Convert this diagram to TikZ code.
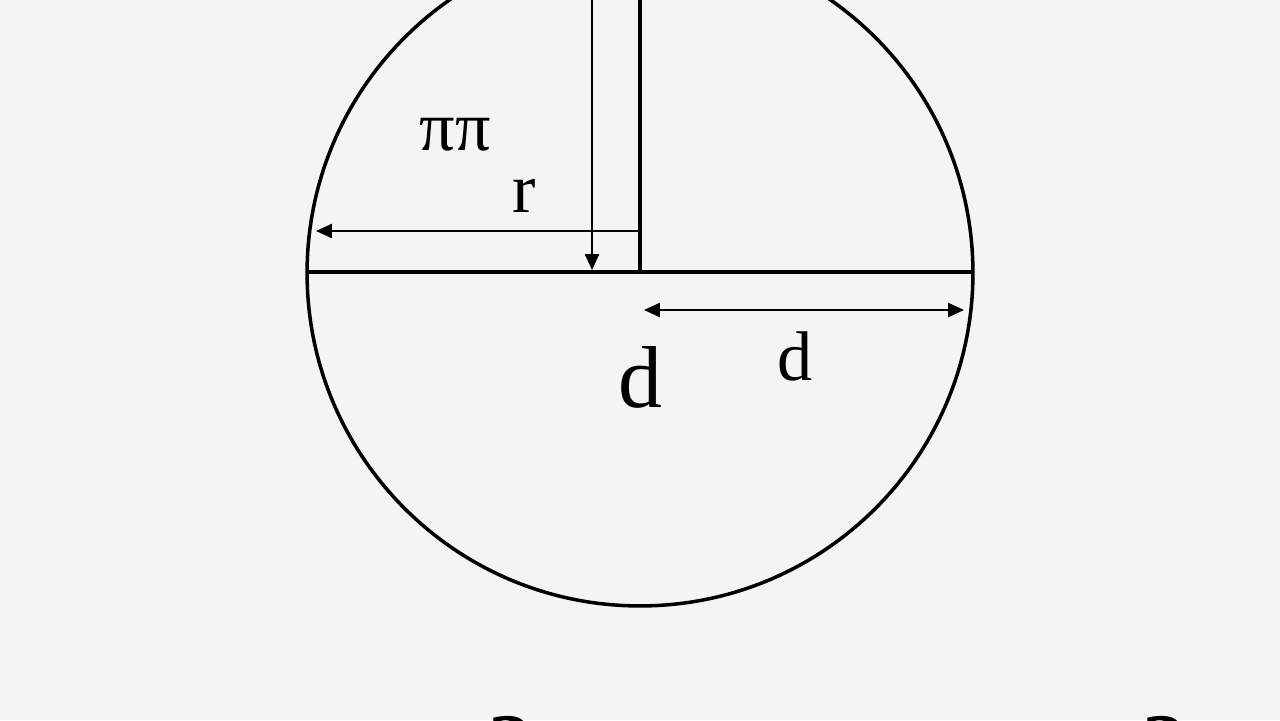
\documentclass[tikz,border=0pt]{standalone}
\usepackage{fontspec}
\setmainfont{Liberation Serif}
\usetikzlibrary{arrows.meta}
\definecolor{bg}{HTML}{F4F4F4}
\tikzset{
  thickline/.style={line width=2pt, black},
  thinline/.style={line width=1pt, black},
  tip/.style={-{Triangle[length=9pt,width=8pt]}},
  lbl/.style={inner sep=0pt, font=\fontsize{40}{40}\selectfont},
}
\begin{document}
\begin{tikzpicture}[x=0.02cm,y=-0.02cm]
\fill[bg] (0,0) rectangle (1280,720);
\useasboundingbox (0,0) rectangle (1280,720);
\clip (0,0) rectangle (1280,720);
% main circle
\coordinate (C) at (640,273);
\draw[thickline] (C) circle [radius=6.66cm];
% diameter and vertical radius
\coordinate (L) at (307,272);
\coordinate (R) at (973,272);
\coordinate (Top) at (640,-5);
\draw[thickline] (L) -- (R);
\draw[thickline] (Top) -- (640,272);
% thin vertical arrow
\coordinate (va1) at (592,-5);
\coordinate (va2) at (592,270);
\draw[thinline,tip] (va1) -- (va2);
% left arrow
\coordinate (la1) at (639,231);
\coordinate (la2) at (316,231);
\draw[thinline,tip] (la1) -- (la2);
% double arrow
\coordinate (da1) at (644,310);
\coordinate (da2) at (964,310);
\draw[thinline,{Triangle[length=9pt,width=8pt]}-{Triangle[length=9pt,width=8pt]}] (da1) -- (da2);
% labels
\node[lbl, anchor=base] (pp) at (455,150) {ππ};
\node[lbl, anchor=base] (r) at (524,212) {r};
\node[inner sep=0pt, anchor=base, font=\fontsize{50}{50}\selectfont] (d1) at (640,407) {d};
\node[inner sep=0pt, anchor=base, font=\fontsize{40}{40}\selectfont] (d2) at (795,380) {d};
% cut-off glyphs at bottom
\node[inner sep=0pt, anchor=north, font=\fontsize{50}{50}\bfseries\selectfont] (q1) at (510,716) {?};
\node[inner sep=0pt, anchor=north, font=\fontsize{50}{50}\bfseries\selectfont] (q2) at (1164,716) {?};
\end{tikzpicture}
\end{document}
